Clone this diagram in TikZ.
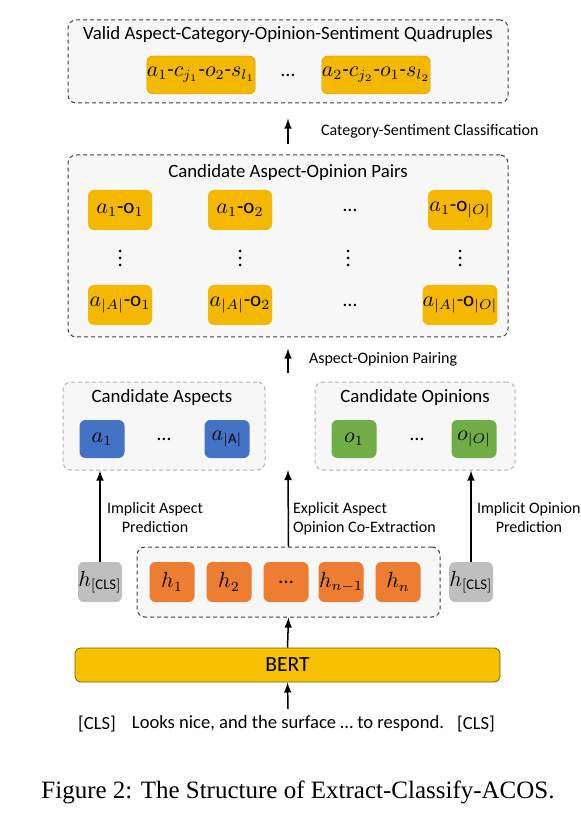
\documentclass[tikz,border=0pt]{standalone}
\usepackage{fontspec}
\setmainfont{Carlito}
\newfontfamily\capfont{Liberation Serif}
\definecolor{quadfill}{HTML}{F5B800}
\definecolor{bertfill}{HTML}{F7C000}
\definecolor{hfill}{HTML}{ED7D31}
\definecolor{aspfill}{HTML}{4472C4}
\definecolor{opnfill}{HTML}{70AD47}
\definecolor{clsfill}{HTML}{BFBFBF}
\definecolor{grpfill}{HTML}{F7F7F7}
\begin{document}
\begin{tikzpicture}[x=0.5pt,y=-0.5pt,
    grp/.style={draw=black!75,fill=grpfill,rounded corners=4pt,line width=0.5pt,
        dash pattern=on 2pt off 1.5pt},
    lightgrp/.style={grp,draw=black!30},
    title/.style={font=\fontsize{9.4}{11}\selectfont},
    lbl/.style={font=\fontsize{8}{9.5}\selectfont},
    dots/.style={inner sep=0pt,font=\fontsize{10}{12}\selectfont},
    arr/.style={-latex,line width=0.75pt}]
    \tikzstyle{cell}=[rounded corners=3pt,inner sep=0pt,minimum width=32pt,
        minimum height=20pt,font=\fontsize{10.5}{12}\selectfont]
    \useasboundingbox (0,0) rectangle (580,817);

    % quadruples
    \node[grp,minimum width=220pt,minimum height=41.5pt] (quad) at (288,61.5) {};
    \node[title] (quadtitle) at (288,35) {Valid Aspect-Category-Opinion-Sentiment Quadruples};
    \node[cell,fill=quadfill,draw=quadfill!80!black,line width=0.2pt,minimum width=53.5pt,minimum height=19pt] (q1) at (201,75) {$a_1$-$c_{j_1}$-$o_2$-$s_{l_1}$};
    \node[dots] (qdots) at (288,75) {\dots};
    \node[cell,fill=quadfill,draw=quadfill!80!black,line width=0.2pt,minimum width=53.5pt,minimum height=19pt] (q2) at (376,75) {$a_2$-$c_{j_2}$-$o_1$-$s_{l_2}$};

    % pairs
    \node[grp,minimum width=220pt,minimum height=91pt] (pairs) at (288,246) {};
    \node[title] (pairtitle) at (288,172) {Candidate Aspect-Opinion Pairs};
    \node[cell,fill=quadfill] (p11) at (120,210) {$a_1$-o$_1$};
    \node[cell,fill=quadfill] (p12) at (240,210) {$a_1$-o$_2$};
    \node[dots] (p1d) at (350,210) {\dots};
    \node[cell,fill=quadfill] (p1o) at (460,210) {$a_1$-o$_{|O|}$};
    \foreach \col in {120,240,348,460}
        \foreach \dy in {-7,0,7}
            \fill (\col,258+\dy) circle (0.75pt);
    \node[cell,fill=quadfill] (pa1) at (120,305) {$a_{|A|}$-o$_1$};
    \node[cell,fill=quadfill] (pa2) at (240,305) {$a_{|A|}$-o$_2$};
    \node[dots] (pad) at (350,305) {\dots};
    \node[cell,fill=quadfill] (pao) at (460,305) {$a_{|A|}$-o$_{|O|}$};

    \draw[arr,shorten <=5pt,shorten >=7.5pt] (pairs.north) -- (quad.south);
    \node[lbl,anchor=west] (clslbl) at (314,131) {Category-Sentiment Classification};

    % candidates
    \node[lightgrp,minimum width=101pt,minimum height=44pt] (asp) at (164,426) {};
    \node[title] (asptitle) at (162,397) {Candidate Aspects};
    \node[cell,fill=aspfill,minimum width=22.5pt,minimum height=19pt] (a1) at (102,439) {$a_1$};
    \node[dots] (adots) at (164,439) {\dots};
    \node[cell,fill=aspfill,minimum width=22.5pt,minimum height=19pt] (aA) at (227,439) {$a_{|\mathrm{A}|}$};

    \node[lightgrp,minimum width=100pt,minimum height=44pt] (opn) at (415,426) {};
    \node[title] (opntitle) at (415,397) {Candidate Opinions};
    \node[cell,fill=opnfill,minimum width=22.5pt,minimum height=19pt] (o1) at (354,439) {$o_1$};
    \node[dots] (odots) at (417,439) {\dots};
    \node[cell,fill=opnfill,minimum width=22.5pt,minimum height=19pt] (oO) at (474,439) {$o_{|O|}$};

    \coordinate (pairin) at (288,373);
    \draw[arr,shorten >=5.5pt] (pairin) -- (pairs.south);
    \node[lbl,anchor=west] (pairlbl) at (302,359) {Aspect-Opinion Pairing};

    % hidden states
    \node[grp,minimum width=151.5pt,minimum height=35pt] (hs) at (288.5,582) {};
    \node[cell,fill=clsfill,minimum width=22pt] (hcl) at (100,582) {$h_{[\mathrm{CLS}]}$};
    \node[cell,fill=hfill,minimum width=22.5pt] (h1) at (172,582) {$h_1$};
    \node[cell,fill=hfill,minimum width=22.5pt] (h2) at (229,582) {$h_2$};
    \node[cell,fill=hfill,minimum width=22.5pt] (hd) at (286,582) {\dots};
    \node[cell,fill=hfill,minimum width=22.5pt] (hn1) at (341,582) {$h_{n-1}$};
    \node[cell,fill=hfill,minimum width=22.5pt] (hn) at (398,582) {$h_n$};
    \node[cell,fill=clsfill,minimum width=22pt] (hcr) at (471,582) {$h_{[\mathrm{CLS}]}$};

    \coordinate (extout) at (288,470);
    \draw[arr] (hcl.north) -- (hcl.north |- asp.south);
    \draw[arr] (hs.north) -- (extout);
    \draw[arr] (hcr.north) -- (hcr.north |- opn.south);
    \node[lbl,anchor=north west,align=center] (implasp) at (100,495) {Implicit Aspect\\Prediction};
    \node[lbl,anchor=north west,align=left] (explao) at (286,495) {Explicit Aspect\\Opinion Co-Extraction};
    \node[lbl,anchor=north west,align=center] (implopn) at (470,495) {Implicit Opinion\\Prediction};

    % encoder
    \node[rounded corners=3pt,fill=bertfill,draw=bertfill!50!black,line width=0.4pt,
        minimum width=212.5pt,minimum height=17pt,font=\fontsize{10.8}{12}\selectfont] (bert) at (287.5,665) {BERT};
    \draw[arr] (bert.north) -- (hs.south);

    \node[font=\fontsize{9.3}{11}\selectfont] (clsin) at (97,724) {[CLS]};
    \node[font=\fontsize{9.3}{11}\selectfont] (sent) at (288,724) {Looks nice, and the surface \dots\ to respond.};
    \node[font=\fontsize{9.3}{11}\selectfont] (sepin) at (476,724) {[CLS]};
    \draw[arr] (sent.north) -- (bert.south);

    \node[font=\capfont\fontsize{12.5}{14}\selectfont] (caption) at (298,792) {Figure 2: The Structure of Extract-Classify-ACOS.};
\end{tikzpicture}
\end{document}
